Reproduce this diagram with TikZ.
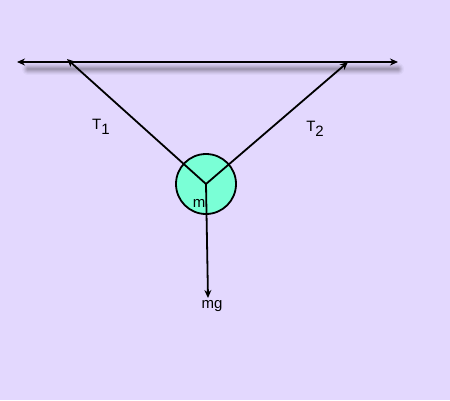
\documentclass[tikz,border=0pt]{standalone}
\usepackage{fontspec}
\setmainfont{Liberation Sans}
\usetikzlibrary{arrows.meta}
\definecolor{bg}{HTML}{E3D8FE}
\definecolor{mass}{HTML}{7AFFD6}
\tikzset{
  tip/.tip={Stealth[length=8pt,width=7pt]},
  force/.style={line width=1.8pt, -tip},
  lbl/.style={font=\fontsize{15}{17}\selectfont, inner sep=0pt},
}
\begin{document}
\begin{tikzpicture}[x=1pt,y=-1pt]
\fill[bg] (0,0) rectangle (450,400);
\useasboundingbox (0,0) rectangle (450,400);
% shadow of the bar
\foreach \w/\o in {12/0.03,10/0.04,8/0.05,6/0.06,4/0.07,2/0.08}
  \draw[line width=\w pt, black, opacity=\o, line cap=round] (28,69) -- (398,69);
\coordinate (L) at (17,62);
\coordinate (R) at (398,62);
\draw[line width=1.8pt, tip-tip] (L) -- (R);
% mass
\node[circle, draw, line width=1.8pt, fill=mass, minimum size=60pt, inner sep=0pt] (m) at (206,184) {};
\coordinate (J) at (206,184);
\coordinate (A1) at (67,59);
\coordinate (A2) at (348,62);
\coordinate (G) at (208,298);
\draw[force] (J) -- (A1);
\draw[force] (J) -- (A2);
\draw[force] (J) -- (G);
\node[lbl] (t1) at (101,127) {T\raisebox{-0.6ex}{1}};
\node[lbl] (t2) at (315,129) {T\raisebox{-0.6ex}{2}};
\node[lbl] (ml) at (199,203) {m};
\node[lbl] (mg) at (212,306) {mg};
\end{tikzpicture}
\end{document}
